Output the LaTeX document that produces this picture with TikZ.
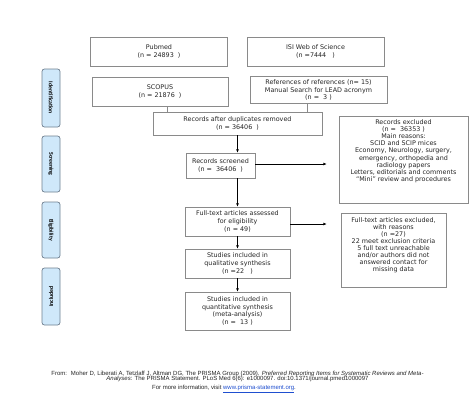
\documentclass[tikz,border=0pt]{standalone}
\usepackage{fontspec}
\setmainfont{DejaVu Sans}
\newfontfamily\labfont{Carlito}
\newfontfamily\footfont{Liberation Sans}
\usetikzlibrary{arrows.meta}
\definecolor{boxgray}{HTML}{8A8A8A}
\definecolor{txtc}{HTML}{262626}
\definecolor{sidef}{HTML}{CFE8FA}
\definecolor{sideb}{HTML}{6F8090}
\definecolor{linkb}{HTML}{1F4FD0}
\begin{document}
\begin{tikzpicture}[x=1pt,y=-1pt]
\tikzset{
  bx/.style={draw=boxgray, line width=0.7pt, align=center, inner sep=0pt, text=txtc, font=\fontsize{6.4}{7.6}\selectfont},
  txt/.style={align=center, inner sep=0pt, text=txtc, font=\fontsize{6.4}{7.1}\selectfont},
  side/.style={draw=sideb, fill=sidef, rounded corners=2.5pt, line width=0.7pt, minimum height=18pt, inner sep=0pt, text=black, font=\labfont\bfseries\fontsize{5.8}{6}\selectfont},
  arr/.style={-{Latex[length=3.2pt,width=2.8pt]}, line width=0.6pt, draw=black},
  tick/.style={line width=0.6pt, draw=boxgray},
  foot/.style={align=center, inner sep=0pt, text=txtc, font=\footfont\fontsize{6}{5.6}\selectfont}
}
\useasboundingbox (0,0) rectangle (474,416);
\fill[white] (0,0) rectangle (474,416);

% side labels
\node[side, rotate=-90, minimum width=58pt] (sid) at (51,98) {Identification};
\node[side, rotate=-90, minimum width=56pt] (sscr) at (51,164) {Screening};
\node[side, rotate=-90, minimum width=56pt] (selig) at (51,230) {Eligibility};
\node[side, rotate=90, minimum width=57pt] (sinc) at (51,296.5) {Included};

% boxes
\node[bx, minimum width=137pt, minimum height=29pt] (pub) at (159,51.5) {Pubmed\\(n = 24893~~)};
\node[bx, minimum width=137pt, minimum height=29pt] (isi) at (315.5,51.5) {ISI Web of Science\\(n =7444~~~)};
\node[bx, minimum width=136pt, minimum height=29pt] (scop) at (160,91.5) {SCOPUS\\(n = 21876~~)};
\node[bx, minimum width=137pt, minimum height=27pt] (refs) at (318.5,90) {References of references (n= 15)\\Manual Search for LEAD acronym\\(n = ~3 )};
\node[bx, minimum width=169pt, minimum height=23pt] (recdup) at (237.5,123.5) {Records after duplicates removed\\(n = 36406~~)};
\node[bx, minimum width=129pt, minimum height=87pt] (excl) at (403.5,159.5) {};
\node[txt, anchor=north] (exclt) at (403.5,119.5) {Records excluded\\(n = ~36353 )\\Main reasons:\\SCID and SCIP mices\\Economy, Neurology, surgery,\\emergency, orthopedia and\\radiology papers\\Letters, editorials and comments\\``Mini'' review and procedures};
\node[bx, minimum width=69pt, minimum height=25pt] (scr) at (220.5,165.5) {Records screened\\(n = ~36406 ~)};
\node[bx, minimum width=105pt, minimum height=29pt] (ft) at (237.5,221.5) {Full-text articles assessed\\for eligibility\\(n = 49)};
\node[bx, minimum width=105pt, minimum height=74pt] (fte) at (393.5,250) {};
\node[txt, anchor=north] (ftet) at (393.5,217) {Full-text articles excluded,\\with reasons\\(n =27)\\22 meet exclusion criteria\\5 full text unreachable\\and/or authors did not\\answered contact for\\missing data};
\node[bx, minimum width=105pt, minimum height=29pt] (qual) at (237.5,263.5) {Studies included in\\qualitative synthesis\\(n =22~~~)};
\node[bx, minimum width=105pt, minimum height=38pt] (quant) at (237.5,311) {Studies included in\\quantitative synthesis\\(meta-analysis)\\(n = ~13 )};

% connectors
\draw[tick] ([xshift=7pt]scop.south) -- ([xshift=7pt]scop.south |- recdup.north);
\draw[tick] ([xshift=-11.5pt]refs.south) -- ([xshift=-11.5pt]refs.south |- recdup.north);
\draw[arr] (recdup.south) -- (recdup.south |- scr.north);
\draw[arr] (recdup.south |- scr.south) -- (ft.north);
\draw[arr] (ft.south) -- (qual.north);
\draw[arr] (qual.south) -- (quant.north);
\draw[arr] ([yshift=1.5pt]scr.east) -- ([xshift=-12pt,yshift=1.5pt]excl.west |- scr.east);
\draw[arr] ([yshift=-2.5pt]ft.east) -- ([xshift=-14pt,yshift=-2.5pt]fte.west |- ft.east);

% footer
\node[foot] (cite) at (237.5,376.5) {From:~ Moher D, Liberati A, Tetzlaff J, Altman DG, The PRISMA Group (2009). \textit{Preferred Reporting Items for Systematic Reviews and Meta-}\\\textit{Analyses}: The PRISMA Statement. PLoS Med 6(6): e1000097. doi:10.1371/journal.pmed1000097};
\node[foot] (more) at (224,389) {For more information, visit \textcolor{linkb}{\underline{www.prisma-statement.org}}.};
\end{tikzpicture}
\end{document}
